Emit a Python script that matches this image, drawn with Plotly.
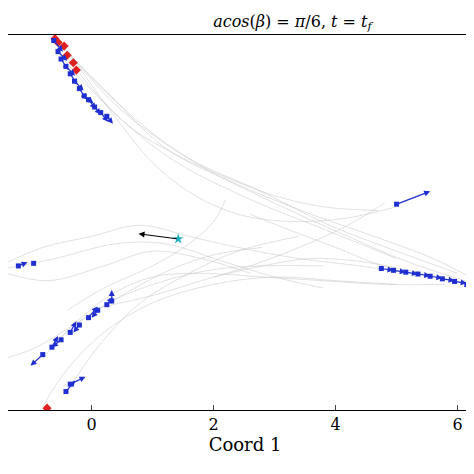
import plotly.graph_objects as go

# gray trajectories (x, y lists)
gray_x = [
    [-0.6, 0.2, 1.2, 2.4, 3.6, 4.8, 5.6, 6.2],
    [-0.5, 0.3, 1.5, 2.8, 3.9, 5.0, 6.0],
    [-0.4, 0.5, 1.8, 3.0, 4.2, 5.2, 6.3],
    [-0.3, 0.4, 1.0, 1.6, 2.4, 3.3, 4.2, 5.0],
    [-0.2, 0.6, 1.4, 2.2, 3.0, 3.8, 4.7],
    [-0.6, -0.2, 0.6, 1.4, 2.6, 3.8, 5.0],
    [-1.5, -0.8, 0.0, 0.8, 1.6, 2.4, 3.4, 4.4, 5.2],
    [-1.5, -0.6, 0.4, 1.2, 2.2, 3.0, 3.8],
    [-1.4, -0.7, 0.2, 1.0, 1.8, 2.6],
    [-0.8, -0.3, 0.3, 1.0, 1.8, 2.8, 3.8, 4.8, 5.8],
    [-0.7, -0.1, 0.6, 1.3, 2.0, 2.8],
    [-1.4, -0.9, -0.3, 0.4, 1.2, 2.0, 2.8, 3.8],
    [-0.8, -0.4, 0.2, 1.0, 2.0, 3.0, 4.0, 5.0],
    [-0.4, 0.1, 0.8, 1.6, 2.4, 3.4],
    [4.8, 4.2, 3.4, 2.6, 1.8, 1.0, 0.2],
    [6.2, 5.4, 4.5, 3.6, 2.8, 2.0],
    [5.0, 4.6, 4.0, 3.2, 2.6],
    [-0.4, 0.2, 1.0, 1.6, 2.0, 2.2],
]
gray_y = [
    [9.9, 8.6, 7.0, 6.0, 5.2, 4.5, 4.0, 3.5],
    [9.8, 8.4, 6.8, 5.8, 4.9, 4.2, 3.6],
    [9.6, 8.0, 6.5, 5.5, 4.6, 3.9, 3.3],
    [9.4, 7.8, 6.6, 5.8, 5.2, 5.0, 5.1, 5.4],
    [9.0, 7.6, 6.8, 6.2, 5.7, 5.4, 5.3],
    [9.7, 8.9, 7.6, 6.6, 5.6, 4.8, 4.0],
    [3.8, 4.3, 4.6, 4.9, 4.6, 4.3, 4.0, 3.8, 3.6],
    [3.7, 4.0, 4.4, 4.4, 3.9, 3.5, 3.2],
    [3.6, 3.4, 3.8, 4.2, 4.0, 3.6],
    [1.3, 2.2, 3.0, 3.5, 3.6, 3.5, 3.4, 3.3, 3.3],
    [1.6, 2.4, 3.1, 3.7, 4.1, 4.3],
    [1.3, 1.6, 2.2, 2.9, 3.4, 3.7, 3.8, 3.8],
    [0.0, 1.0, 2.0, 2.8, 3.3, 3.5, 3.4, 3.3],
    [0.4, 1.6, 2.8, 3.6, 4.2, 4.6],
    [5.5, 4.9, 4.3, 3.8, 3.4, 3.0, 2.7],
    [3.3, 3.6, 3.9, 4.0, 3.8, 3.5],
    [3.7, 3.9, 4.3, 4.8, 5.2],
    [2.6, 3.2, 3.8, 4.4, 5.0, 5.6],
]

# blue agents (squares) with arrow heads
blue_x = [-0.62, -0.55, -0.5, -0.42, -0.35, -0.28, -0.2, -0.12, -0.05, 0.05, 0.15, 0.25,
          4.75, 4.95, 5.15, 5.35, 5.55, 5.75, 5.95, 6.15,
          -0.8, -0.65, -0.5, -0.35, -0.2, -0.05, 0.1, 0.25, 0.33,
          -1.45, -1.2, -0.95, -1.42, -0.42, -0.35, 5.0]
blue_y = [9.9, 9.6, 9.4, 9.2, 9.0, 8.8, 8.6, 8.4, 8.3, 8.1, 7.95, 7.85,
          3.73, 3.68, 3.63, 3.58, 3.52, 3.45, 3.38, 3.3,
          1.4, 1.6, 1.8, 2.0, 2.2, 2.4, 2.6, 2.75, 2.85,
          3.73, 3.8, 3.87, 1.33, 0.4, 0.6, 5.47]
blue_dx = [0.15, 0.15, 0.12, 0.15, 0.12, 0.15, 0.12, 0.15, 0.12, 0.1, 0.12, 0.1,
           0.2, 0.2, 0.2, 0.2, 0.2, 0.2, 0.2, 0.2,
           -0.2, 0.1, -0.15, 0.1, -0.1, 0.15, -0.1, 0.1, 0.0,
           -0.2, 0.15, 0.0, -0.15, 0.15, 0.25, 0.55]
blue_dy = [-0.3, -0.25, -0.3, -0.25, -0.3, -0.25, -0.3, -0.2, -0.25, -0.2, -0.25, -0.2,
           -0.05, -0.05, -0.05, -0.05, -0.05, -0.05, -0.05, -0.05,
           -0.3, 0.3, -0.2, 0.3, -0.2, 0.3, -0.2, 0.2, 0.3,
           0.0, 0.1, 0.0, -0.2, 0.3, 0.2, 0.35]

# red targets (diamonds)
red_x = [-0.6, -0.55, -0.45, -0.4, -0.3, -0.25, 6.2, -0.73]
red_y = [9.95, 9.85, 9.75, 9.5, 9.3, 9.1, 3.28, -0.05]

# special agent
star_x, star_y = [1.42], [4.53]
star_dx, star_dy = [-0.65], [0.14]

fig = go.Figure()
for xs, ys in zip(gray_x, gray_y):
    fig.add_trace(go.Scatter(x=xs, y=ys, mode='lines', line_shape='spline',
                             line=dict(color='rgba(200,200,200,0.55)', width=1)))
fig.add_trace(go.Scatter(x=red_x, y=red_y, mode='markers',
                         marker=dict(symbol='diamond', color='#e02020', size=7)))
fig.add_trace(go.Scatter(x=blue_x, y=blue_y, mode='markers',
                         marker=dict(symbol='square', color='#1f2fd0', size=5)))
fig.add_trace(go.Scatter(x=star_x, y=star_y, mode='markers',
                         marker=dict(symbol='star', color='#20b0c0', size=8)))

for x, y, dx, dy in zip(blue_x, blue_y, blue_dx, blue_dy):
    fig.add_annotation(x=x + dx, y=y + dy, ax=x, ay=y, xref='x', yref='y', axref='x', ayref='y',
                       showarrow=True, arrowhead=2, arrowsize=1, arrowwidth=1.2,
                       arrowcolor='#1f2fd0', text='')
fig.add_annotation(x=star_x[0] + star_dx[0], y=star_y[0] + star_dy[0], ax=star_x[0], ay=star_y[0],
                   xref='x', yref='y', axref='x', ayref='y', showarrow=True, arrowhead=2,
                   arrowwidth=1.2, arrowcolor='black', text='')

fig.update_layout(
    width=474, height=474, showlegend=False,
    plot_bgcolor='white', paper_bgcolor='white',
    margin=dict(l=0, r=0, t=27, b=72, autoexpand=False),
    font=dict(family='DejaVu Serif', color='black'),
    title=dict(text='<i>acos</i>(<i>β</i>) = <i>π</i>/6, <i>t</i> = <i>t<sub>f</sub></i>',
               x=0.6, xanchor='center', y=0.972, yanchor='middle', font=dict(size=16)),
)
fig.update_xaxes(range=[-1.37, 6.4], tickvals=[0, 2, 4, 6], ticks='inside', ticklen=5,
                 showgrid=False, zeroline=False, showline=True, linecolor='black', mirror=True,
                 tickfont=dict(size=16), title=dict(text='Coord 1', font=dict(size=18), standoff=4))
fig.update_yaxes(range=[-0.1, 10.05], showticklabels=False, ticks='',
                 showgrid=False, zeroline=False, showline=True, linecolor='black', mirror=True)

fig.write_html("out.html")
